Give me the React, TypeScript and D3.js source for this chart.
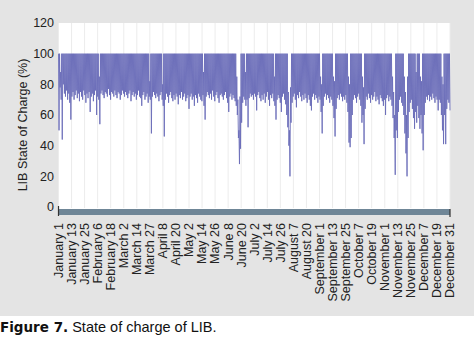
import React from "react";
import * as d3 from "d3";

// Daily minimum state of charge (%), Jan 1 .. Dec 31
const janMin = [50,78,70,44,80,74,72,76,70,74,68,57,72,75,70,73,76,71,74,69,75,72,70,76,73,68,74,71,75,62,72];
const febMin = [74,69,73,76,60,72,70,54,74,76,73,71,75,74,72,77,73,70,75,74,72,76,73,71,75,74,70,73];
const marMin = [76,74,72,75,73,71,74,76,69,73,75,72,74,70,73,76,72,71,66,73,75,70,72,74,68,72,70,48,72,75,73];
const aprMin = [71,74,72,69,73,75,70,66,46,70,74,72,68,73,75,71,69,73,70,74,72,67,73,71,75,70,72,74,69,71];
const mayMin = [73,64,72,74,70,72,66,73,71,68,74,72,70,69,73,66,57,72,75,73,71,74,70,76,72,69,73,75,71,68,73];
const junMin = [74,72,70,73,75,71,68,62,72,74,70,73,71,69,66,60,45,28,38,55,68,72,70,66,70,52,71,74,72,73];
const julMin = [70,74,72,63,73,75,71,69,73,70,74,68,72,75,70,66,73,71,74,69,66,57,70,73,71,68,62,72,74,70,67];
const augMin = [60,52,40,20,55,68,72,74,70,65,73,71,75,72,69,73,70,74,71,68,73,70,66,63,72,74,70,73,71,68,72];
const sepMin = [70,62,48,66,72,74,70,73,71,68,72,70,66,58,46,64,71,73,70,74,72,69,72,70,73,68,62,42,39,45];
const octMin = [60,70,73,71,68,72,74,70,66,55,60,41,64,72,70,74,71,68,73,70,72,75,69,72,70,67,73,71,69,66,70];
const novMin = [60,71,73,69,72,70,66,58,45,21,50,45,62,70,72,68,66,60,48,35,20,45,62,68,70,64,58,51,62,55];
const decMin = [66,58,51,60,48,37,60,68,72,70,73,69,72,70,74,71,68,72,70,63,70,68,60,50,41,60,41,64,70,68,63];

// Days where the daily maximum stays below 100 % : [day of year, max]
const topGaps: [number, number][] = [
  [2, 88], [38, 85], [85, 82], [97, 80], [135, 88], [166, 85], [167, 70], [168, 50], [169, 72],
  [174, 88], [201, 85], [214, 75], [215, 50], [216, 78], [244, 85], [245, 80], [256, 85], [257, 82],
  [270, 85], [271, 80], [283, 85], [284, 78], [311, 85], [312, 75], [313, 60], [322, 85], [323, 75],
  [324, 60], [325, 85], [333, 88], [337, 85], [338, 82], [357, 85], [358, 80],
];

const tickLabels = [
  "January 1", "January 13", "January 25", "February 6", "February 18", "March 2", "March 14",
  "March 27", "April 8", "April 20", "May 2", "May 14", "May 26", "June 8", "June 20", "July 2",
  "July 14", "July 26", "August 7", "August 20", "September 1", "September 13", "September 25",
  "October 7", "October 19", "November 1", "November 13", "November 25", "December 7",
  "December 19", "December 31",
];
const yTicks = [0, 20, 40, 60, 80, 100, 120];

const W = 474;
const H = 338;
const L = 58.5;
const R = 450;
const T = 23;
const B = 207;

export default function App() {
  const mins = [...janMin, ...febMin, ...marMin, ...aprMin, ...mayMin, ...junMin,
    ...julMin, ...augMin, ...sepMin, ...octMin, ...novMin, ...decMin];
  const gapMap = new Map(topGaps);
  const nDays = mins.length;

  const x = d3.scaleLinear().domain([0, nDays - 0.5]).range([L, R]);
  const y = d3.scaleLinear().domain([0, 120]).range([B, T]);

  const pts: [number, number][] = [];
  mins.forEach((m, d) => {
    pts.push([d, gapMap.get(d) ?? 100]);
    pts.push([d + 0.5, m]);
  });
  const line = d3.line<[number, number]>().x((p) => x(p[0])).y((p) => y(p[1]));

  const tickX = d3.scalePoint<string>().domain(tickLabels).range([L, R]);

  const font = "'Liberation Sans', Arial, sans-serif";

  return (
    <svg width={W} height={H} style={{ position: "absolute", left: 0, top: 0 }}>
      <rect x={0} y={0} width={W} height={316} fill="#e4e4e4" />
      <rect x={L} y={T} width={R - L} height={B - T + 2} fill="#ffffff" />
      {tickLabels.map((t) => (
        <line key={"g" + t} x1={tickX(t)} x2={tickX(t)} y1={T} y2={B + 1} stroke="#ececec" strokeWidth={1} />
      ))}
      <path d={line(pts) ?? ""} fill="none" stroke="#6b6db9" strokeWidth={0.9} />
      <rect x={L} y={209} width={R - L} height={6} fill="#6f8697" />
      <line x1={L} x2={L} y1={206} y2={216} stroke="#333" strokeWidth={1.2} />
      <line x1={R} x2={R} y1={209} y2={217} stroke="#333" strokeWidth={1.2} />
      {yTicks.map((v) => (
        <text key={v} x={54} y={y(v)} dy="0.35em" textAnchor="end" fontFamily={font} fontSize={12.5} fill="#222">
          {v}
        </text>
      ))}
      <text
        transform={`translate(27,${(T + B) / 2 + 10}) rotate(-90)`}
        textAnchor="middle"
        fontFamily={font}
        fontSize={12.5}
        fill="#222"
      >
        LIB State of Charge (%)
      </text>
      {tickLabels.map((t) => (
        <text
          key={t}
          transform={`translate(${tickX(t)},223) rotate(-90)`}
          textAnchor="end"
          dy="0.35em"
          fontFamily={font}
          fontSize={12.5}
          fill="#222"
        >
          {t}
        </text>
      ))}
      <text x={0} y={332} fontFamily={font} fontSize={14.5} fill="#111">
        <tspan fontFamily="'DejaVu Sans', sans-serif" fontWeight={900} fontSize={13.5}>Figure 7.</tspan>
        <tspan> State of charge of LIB.</tspan>
      </text>
    </svg>
  );
}
